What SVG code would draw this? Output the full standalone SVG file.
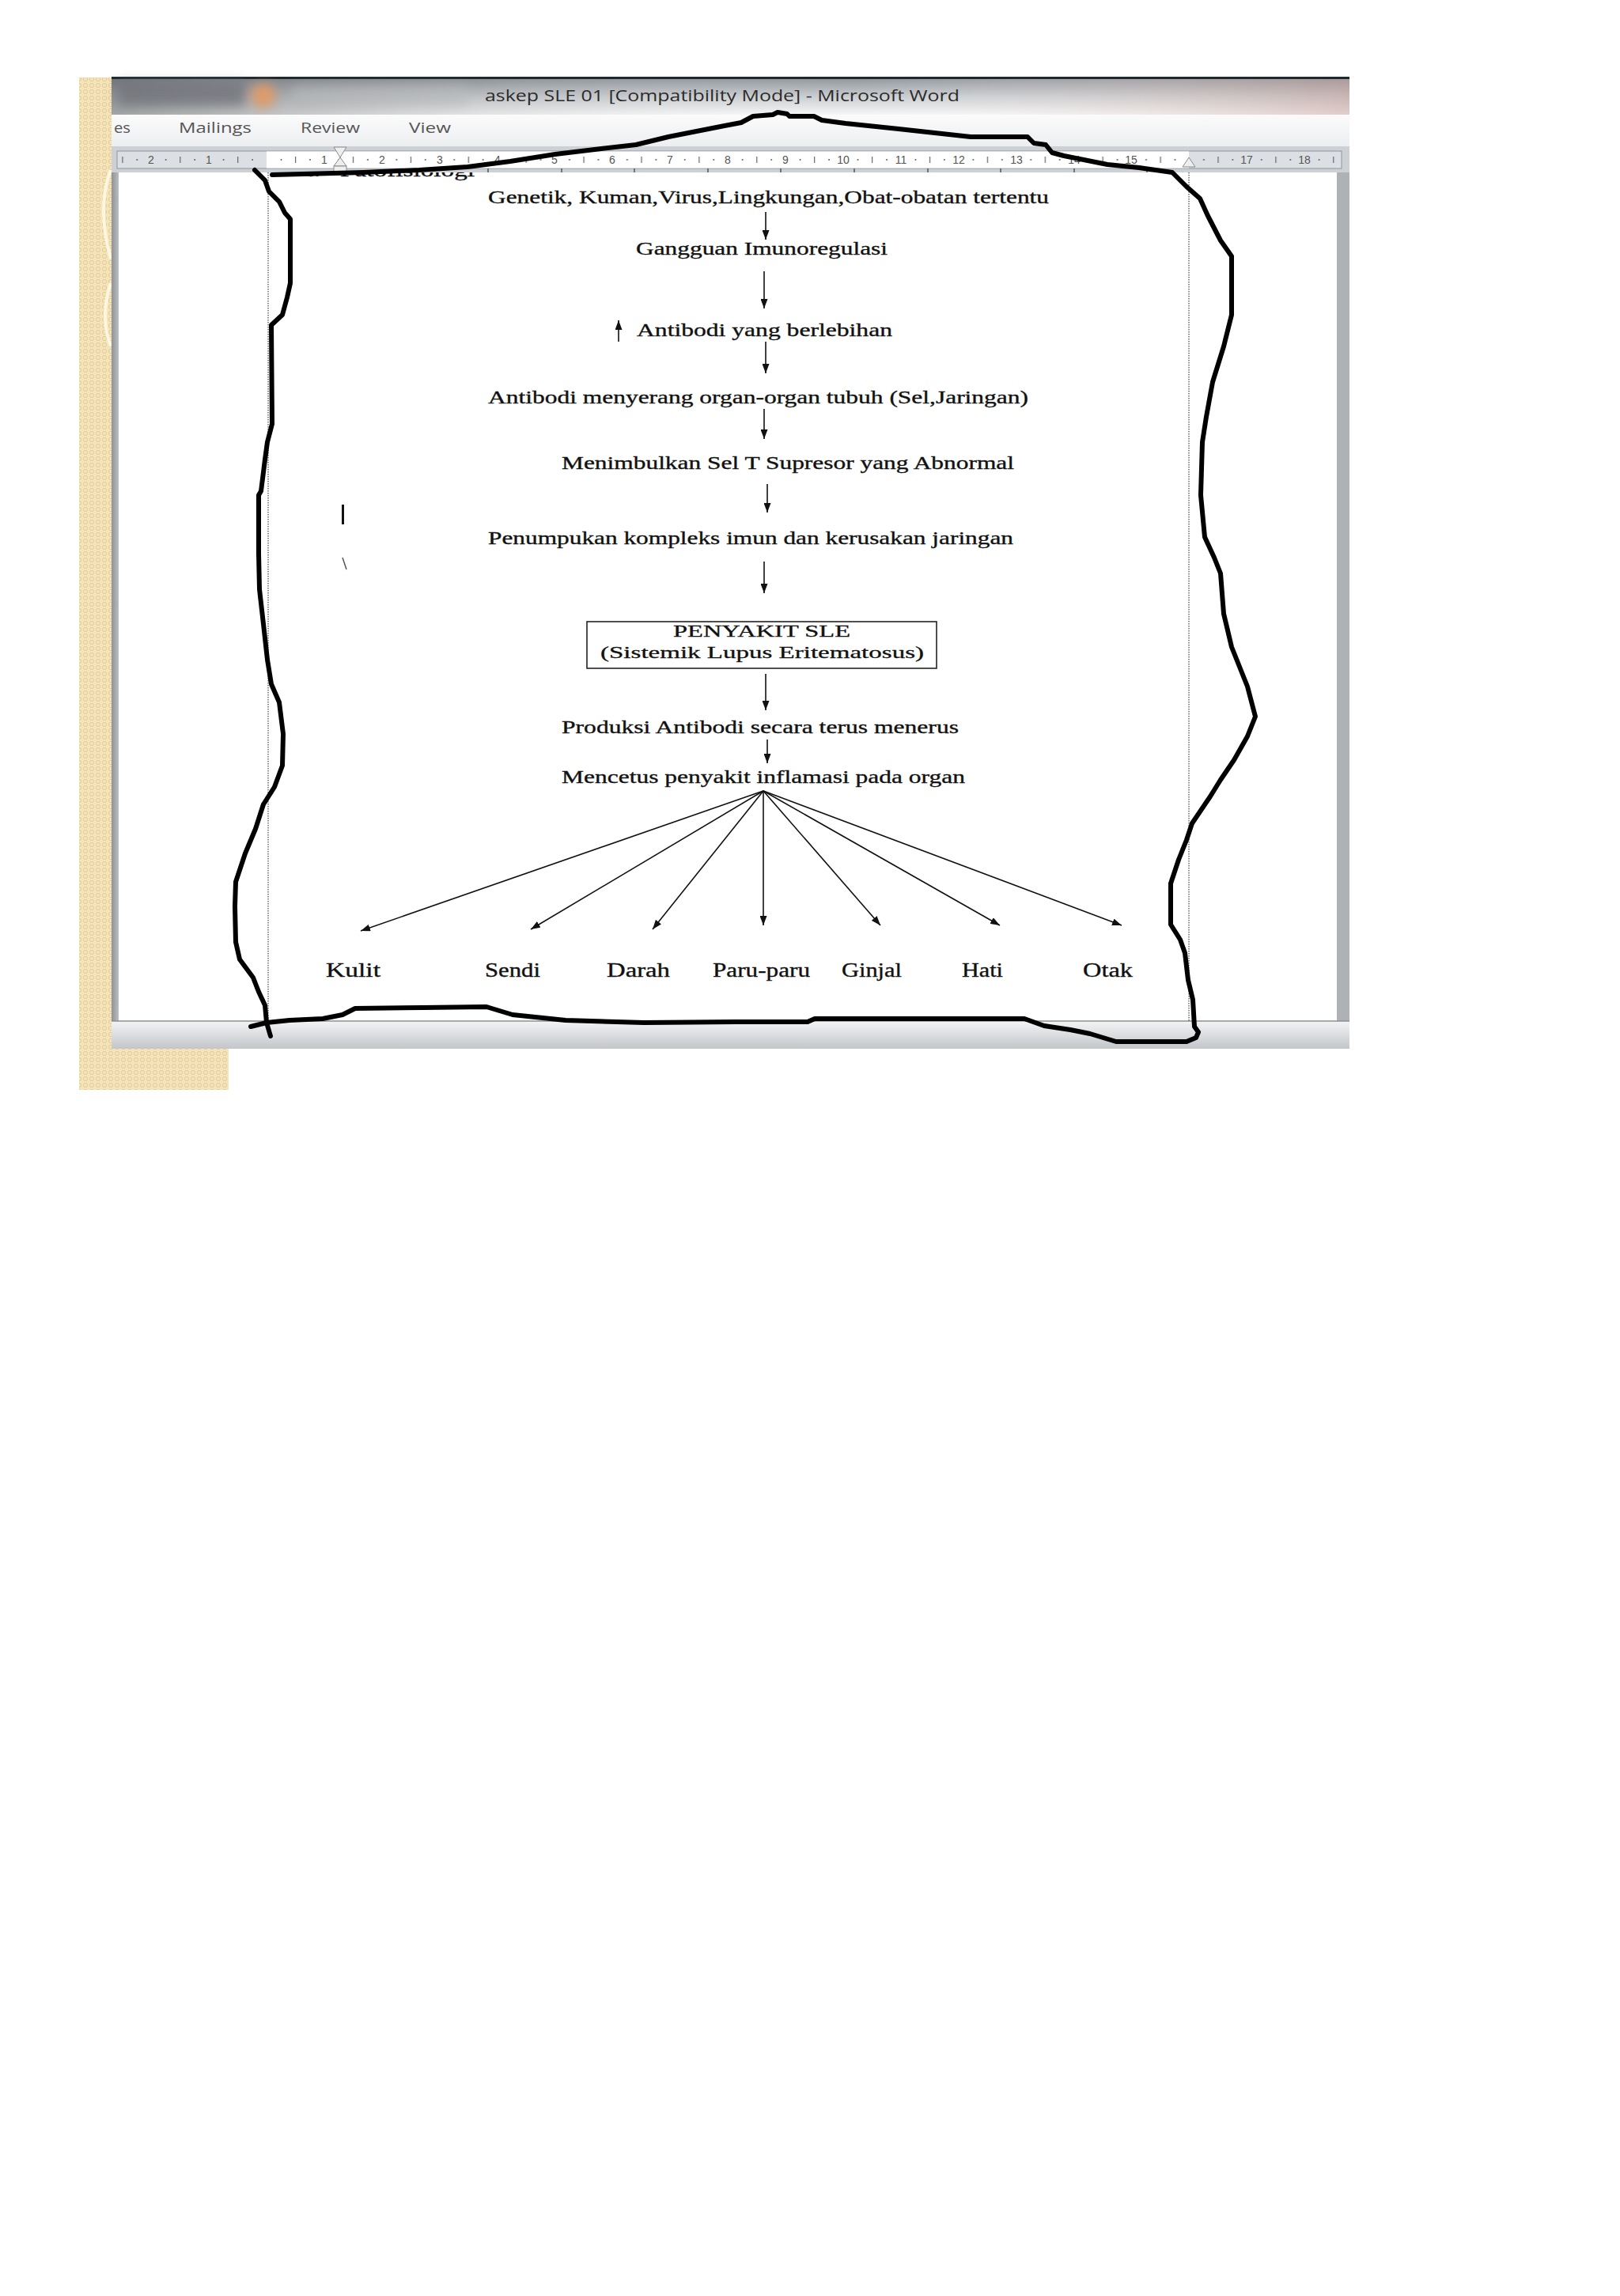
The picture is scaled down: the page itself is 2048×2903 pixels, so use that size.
<svg xmlns="http://www.w3.org/2000/svg" width="2048" height="2903" viewBox="0 0 2048 2903">
<style>
.t{font-family:"Liberation Serif","Times New Roman",serif;font-size:24px;fill:#111;stroke:#111;stroke-width:0.35}
.lb{font-family:"Liberation Serif","Times New Roman",serif;font-size:25px;fill:#111;stroke:#111;stroke-width:0.35}
.bx{font-family:"Liberation Serif","Times New Roman",serif;font-size:21px;fill:#111;stroke:#111;stroke-width:0.3}
.rn{font-family:"Liberation Sans",Arial,sans-serif;font-size:14px;fill:#555;text-anchor:middle}
.tab{font-family:"Open Sans","Liberation Sans",sans-serif;font-size:19px;fill:#555}
.conn{stroke:#111;stroke-width:1.6;fill:none;marker-end:url(#ah)}
.hand{fill:none;stroke:#000;stroke-width:6;stroke-linejoin:round;stroke-linecap:round}
</style>
<defs>
<marker id="ah" viewBox="0 0 12 9" refX="12" refY="4.5" markerWidth="12" markerHeight="9" markerUnits="userSpaceOnUse" orient="auto"><path d="M0,0 L12,4.5 L0,9 z" fill="#111"/></marker>
<pattern id="beige" width="8" height="8" patternUnits="userSpaceOnUse"><rect width="8" height="8" fill="#f4e4bb"/><circle cx="4" cy="4" r="2.6" fill="none" stroke="#e3cb92" stroke-width="1"/></pattern>
<pattern id="ticks" x="337" y="191" width="72.9" height="22" patternUnits="userSpaceOnUse"><rect x="17.7" y="10" width="1.6" height="2" fill="#666"/><rect x="36" y="7" width="1.2" height="8" fill="#666"/><rect x="54.2" y="10" width="1.6" height="2" fill="#666"/></pattern>
<linearGradient id="tbg" x1="0" y1="0" x2="0" y2="1"><stop offset="0" stop-color="#8e949a"/><stop offset="0.5" stop-color="#c9cccf"/><stop offset="1" stop-color="#f6f6f6"/></linearGradient>
<linearGradient id="tbh" x1="0" y1="0" x2="1" y2="0"><stop offset="0" stop-color="#505458" stop-opacity="0.5"/><stop offset="0.3" stop-color="#808080" stop-opacity="0.15"/><stop offset="0.6" stop-color="#ffffff" stop-opacity="0"/><stop offset="1" stop-color="#c89c94" stop-opacity="0.45"/></linearGradient>
<linearGradient id="tabg" x1="0" y1="0" x2="0" y2="1"><stop offset="0" stop-color="#fbfbfb"/><stop offset="1" stop-color="#eceef1"/></linearGradient>
<linearGradient id="botg" x1="0" y1="0" x2="0" y2="1"><stop offset="0" stop-color="#f3f4f5"/><stop offset="1" stop-color="#c3c6ca"/></linearGradient>
<linearGradient id="sideg" x1="0" y1="0" x2="1" y2="0"><stop offset="0" stop-color="#8f9398"/><stop offset="1" stop-color="#b9bcc0"/></linearGradient>
<filter id="blur" x="-50%" y="-50%" width="200%" height="200%"><feGaussianBlur stdDeviation="7"/></filter>
<clipPath id="pageclip"><rect x="150" y="218" width="1540" height="1073"/></clipPath>
</defs>

<rect width="2048" height="2903" fill="#fff"/>

<g id="background">
<rect x="100" y="98" width="41" height="1280" fill="url(#beige)"/>
<rect x="100" y="1326" width="189" height="52" fill="url(#beige)"/>
<path d="M140,215 Q122,262 140,327" fill="none" stroke="#fff6e2" stroke-width="4"/>
<path d="M140,358 Q126,400 140,438" fill="none" stroke="#fff6e2" stroke-width="4"/>
<rect x="141" y="98" width="1565" height="47" fill="url(#tbg)"/>
<rect x="141" y="98" width="1565" height="47" fill="url(#tbh)"/>
<rect x="141" y="97" width="1565" height="3" fill="#1d2830"/>
<g filter="url(#blur)">
<rect x="150" y="104" width="160" height="30" fill="#6d7176" opacity="0.7"/>
<circle cx="333" cy="121" r="15" fill="#e89a60" opacity="0.9"/>
<rect x="370" y="110" width="220" height="22" fill="#b7b9bc" opacity="0.6"/>
</g>
<text x="613" y="128" font-family="'Open Sans','Liberation Sans',sans-serif" font-size="20" fill="#2b2b2b" textLength="600" lengthAdjust="spacingAndGlyphs">askep SLE 01 [Compatibility Mode]  -  Microsoft Word</text>
<rect x="141" y="145" width="1565" height="40" fill="url(#tabg)"/>
<text class="tab" x="144" y="168" textLength="21" lengthAdjust="spacingAndGlyphs">es</text>
<text class="tab" x="226" y="168" textLength="92" lengthAdjust="spacingAndGlyphs">Mailings</text>
<text class="tab" x="380" y="168" textLength="75" lengthAdjust="spacingAndGlyphs">Review</text>
<text class="tab" x="517" y="168" textLength="53" lengthAdjust="spacingAndGlyphs">View</text>
<rect x="141" y="185" width="1565" height="33" fill="#cdd1d6"/>
<rect x="148" y="191" width="1548" height="22" fill="#dcdfe3" stroke="#8f969d" stroke-width="1"/>
<rect x="337" y="191.5" width="1166" height="21" fill="#ffffff"/>
<rect x="148" y="191" width="1548" height="22" fill="url(#ticks)"/>
<g class="rn">
<text x="191" y="207">2</text><text x="264" y="207">1</text>
<text x="410" y="207">1</text><text x="483" y="207">2</text><text x="556" y="207">3</text><text x="629" y="207">4</text><text x="701" y="207">5</text><text x="774" y="207">6</text><text x="847" y="207">7</text><text x="920" y="207">8</text><text x="993" y="207">9</text><text x="1066" y="207">10</text><text x="1139" y="207">11</text><text x="1212" y="207">12</text><text x="1285" y="207">13</text><text x="1358" y="207">14</text><text x="1430" y="207">15</text><text x="1576" y="207">17</text><text x="1649" y="207">18</text>
</g>
<g fill="#eeeeee" stroke="#8a8a8a" stroke-width="1">
<path d="M422,186 L438,186 L430,199 z"/>
<path d="M430,199 L438,210 L422,210 z"/>
<rect x="422" y="210" width="16" height="7"/>
<path d="M1503,199 L1511,211 L1495,211 z"/>
</g>
<g stroke="#555" stroke-width="1.5">
<line x1="617" y1="213" x2="617" y2="218"/><line x1="710" y1="213" x2="710" y2="218"/><line x1="802" y1="213" x2="802" y2="218"/><line x1="895" y1="213" x2="895" y2="218"/><line x1="987" y1="213" x2="987" y2="218"/><line x1="1080" y1="213" x2="1080" y2="218"/><line x1="1173" y1="213" x2="1173" y2="218"/><line x1="1265" y1="213" x2="1265" y2="218"/><line x1="1358" y1="213" x2="1358" y2="218"/><line x1="1450" y1="213" x2="1450" y2="218"/>
</g>
<rect x="141" y="218" width="9" height="1073" fill="url(#sideg)"/>
<rect x="150" y="218" width="1540" height="1073" fill="#ffffff"/>
<rect x="1690" y="218" width="16" height="1073" fill="#aeb2b6"/>
<rect x="141" y="1291" width="1565" height="35" fill="url(#botg)"/>
<line x1="141" y1="1291" x2="1706" y2="1291" stroke="#8c9095" stroke-width="1.5"/>
<g stroke="#222" stroke-width="1" stroke-dasharray="1.5,1.5">
<line x1="339" y1="218" x2="339" y2="1291"/>
<line x1="1503" y1="218" x2="1503" y2="1291"/>
</g>
<g clip-path="url(#pageclip)">
<text class="t" x="386" y="223" font-size="28">6.</text>
<text class="t" x="430" y="223" font-size="28" textLength="170" lengthAdjust="spacingAndGlyphs">Patofisiologi</text>
</g>
<rect x="432" y="638" width="3" height="25" fill="#111"/>
<line x1="433" y1="705" x2="438" y2="720" stroke="#555" stroke-width="1.5"/>
</g>

<g id="n1"><text class="t" x="617" y="257" textLength="709" lengthAdjust="spacingAndGlyphs">Genetik, Kuman,Virus,Lingkungan,Obat-obatan tertentu</text></g>
<g id="n2"><text class="t" x="804" y="322" textLength="318" lengthAdjust="spacingAndGlyphs">Gangguan Imunoregulasi</text></g>
<g id="n3"><text class="t" x="805" y="425" textLength="323" lengthAdjust="spacingAndGlyphs">Antibodi yang berlebihan</text></g>
<g id="n4"><text class="t" x="617" y="510" textLength="683" lengthAdjust="spacingAndGlyphs">Antibodi menyerang organ-organ tubuh (Sel,Jaringan)</text></g>
<g id="n5"><text class="t" x="710" y="593" textLength="572" lengthAdjust="spacingAndGlyphs">Menimbulkan Sel T Supresor yang Abnormal</text></g>
<g id="n6"><text class="t" x="617" y="688" textLength="664" lengthAdjust="spacingAndGlyphs">Penumpukan kompleks imun dan kerusakan jaringan</text></g>
<g id="n7">
<rect x="742" y="786" width="442" height="59" fill="none" stroke="#222" stroke-width="1.6"/>
<text class="bx" x="851" y="805" textLength="224" lengthAdjust="spacingAndGlyphs">PENYAKIT SLE</text>
<text class="bx" x="759" y="832" textLength="409" lengthAdjust="spacingAndGlyphs">(Sistemik Lupus Eritematosus)</text>
</g>
<g id="n8"><text class="t" x="710" y="927" textLength="502" lengthAdjust="spacingAndGlyphs">Produksi Antibodi secara terus menerus</text></g>
<g id="n9"><text class="t" x="710" y="990" textLength="510" lengthAdjust="spacingAndGlyphs">Mencetus penyakit inflamasi pada organ</text></g>
<g id="kulit"><text class="lb" x="412" y="1235" textLength="69" lengthAdjust="spacingAndGlyphs">Kulit</text></g>
<g id="sendi"><text class="lb" x="613" y="1235" textLength="70" lengthAdjust="spacingAndGlyphs">Sendi</text></g>
<g id="darah"><text class="lb" x="767" y="1235" textLength="80" lengthAdjust="spacingAndGlyphs">Darah</text></g>
<g id="paru"><text class="lb" x="901" y="1235" textLength="123" lengthAdjust="spacingAndGlyphs">Paru-paru</text></g>
<g id="ginjal"><text class="lb" x="1064" y="1235" textLength="76" lengthAdjust="spacingAndGlyphs">Ginjal</text></g>
<g id="hati"><text class="lb" x="1216" y="1235" textLength="52" lengthAdjust="spacingAndGlyphs">Hati</text></g>
<g id="otak"><text class="lb" x="1369" y="1235" textLength="63" lengthAdjust="spacingAndGlyphs">Otak</text></g>

<g id="connectors">
<line class="conn" x1="968" y1="268" x2="968" y2="303"/>
<line class="conn" x1="966" y1="343" x2="966" y2="390"/>
<line class="conn" x1="782" y1="432" x2="782" y2="405"/>
<line class="conn" x1="968" y1="432" x2="968" y2="472"/>
<line class="conn" x1="966" y1="517" x2="966" y2="555"/>
<line class="conn" x1="970" y1="612" x2="970" y2="648"/>
<line class="conn" x1="966" y1="710" x2="966" y2="750"/>
<line class="conn" x1="968" y1="852" x2="968" y2="898"/>
<line class="conn" x1="970" y1="935" x2="970" y2="965"/>
<line class="conn" x1="965" y1="1000" x2="456" y2="1177"/>
<line class="conn" x1="965" y1="1000" x2="671" y2="1175"/>
<line class="conn" x1="965" y1="1000" x2="825" y2="1175"/>
<line class="conn" x1="965" y1="1000" x2="965" y2="1170"/>
<line class="conn" x1="965" y1="1000" x2="1113" y2="1170"/>
<line class="conn" x1="965" y1="1000" x2="1264" y2="1170"/>
<line class="conn" x1="965" y1="1000" x2="1418" y2="1170"/>
</g>

<g id="handdrawn-outline">
<path class="hand" d="M322,215 L335,228 L340,242 L353,255 L360,269 L367,277 L367,358 L363,376 L357,398 L343,411 L344,536 L338,559 L335,581 L330,621 L327,626 L327,700 L328,745 L333,789 L338,834 L343,865 L353,888 L358,928 L357,968 L347,995 L333,1017 L323,1048 L310,1079 L298,1115 L297,1146 L298,1191 L303,1213 L320,1236 L327,1254 L335,1271 L337,1293 L342,1310"/>
<path class="hand" d="M317,1298 L337,1293 L366,1290 L408,1288 L433,1283 L449,1275 L534,1274 L615,1273 L648,1283 L715,1290 L814,1293 L930,1292 L1021,1292 L1030,1288 L1295,1288 L1320,1297 L1353,1302 L1378,1307 L1411,1317 L1500,1317 L1512,1312 L1515,1305 L1510,1298 L1508,1264 L1502,1239 L1498,1205 L1492,1188 L1480,1169 L1480,1117 L1490,1087 L1500,1062 L1507,1041 L1530,1007 L1543,986 L1560,961 L1577,931 L1587,906 L1577,868 L1557,818 L1547,776 L1543,725 L1535,705 L1523,679 L1518,626 L1520,559 L1525,527 L1533,483 L1547,438 L1557,398 L1557,324 L1543,304 L1527,273 L1517,251 L1500,236 L1482,218 L1440,212 L1400,208 L1345,197 L1330,193 L1322,183 L1307,181 L1299,173 L1227,173 L1136,163 L1069,156 L1039,152 L1029,147 L998,147 L995,144 L983,142 L977,145 L952,147 L937,155 L916,159 L845,173 L804,183 L760,188 L702,195 L645,204 L591,211 L530,215 L460,218 L344,221"/>
</g>
</svg>
